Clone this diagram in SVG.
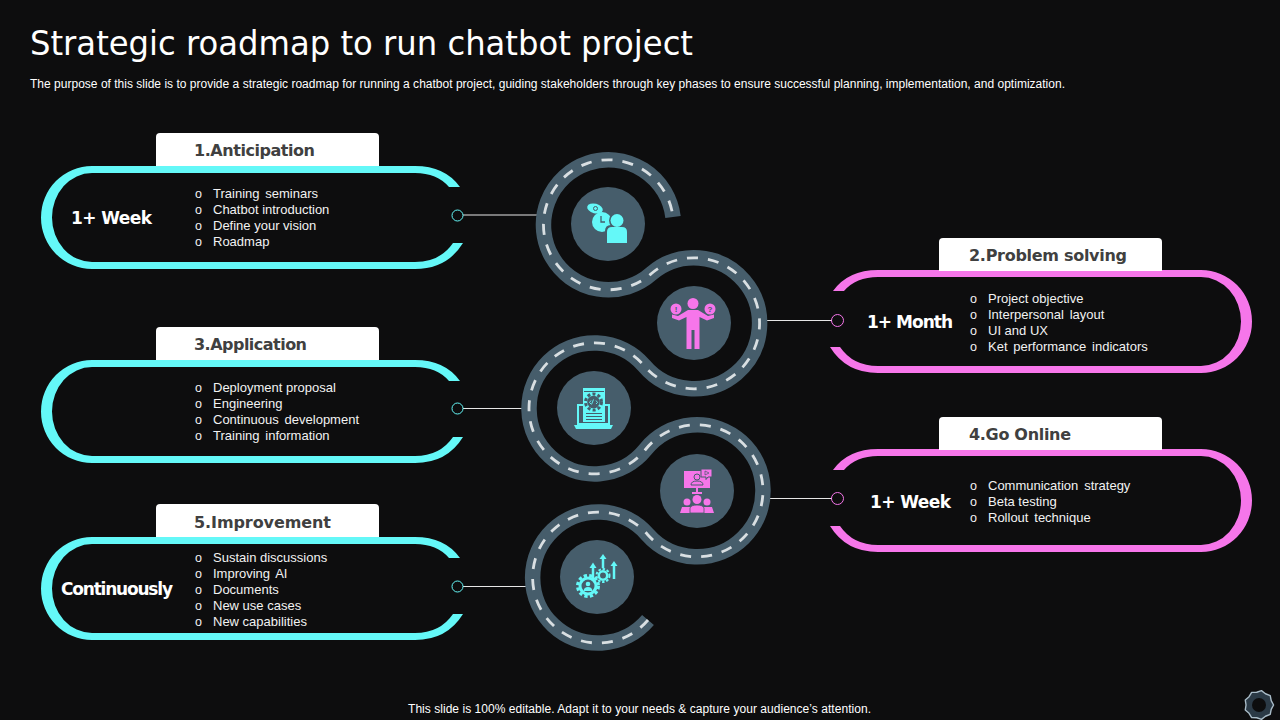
<svg xmlns="http://www.w3.org/2000/svg" xmlns:xlink="http://www.w3.org/1999/xlink" width="1280" height="720" viewBox="0 0 1280 720">
<style>
.body{font-family:"Liberation Sans",Arial,sans-serif;font-size:13px;fill:#f2f2f2}
.ws{word-spacing:2.200px}
.bul{font-family:"Liberation Sans",Arial,sans-serif;font-size:12.500px;fill:#f2f2f2}
.head{font-family:"DejaVu Sans",Verdana,sans-serif;font-weight:700;font-size:16px;fill:#404040}
.dur{font-family:"DejaVu Sans",Verdana,sans-serif;font-weight:700;font-size:17px;fill:#fff}
.note{font-family:"Liberation Sans",Arial,sans-serif;font-size:12px;fill:#fff}
.tab{fill:#fff}
.conn{stroke:#e6e6e6;stroke-width:1;fill:none}
.disc{fill:#465d6b}
.cy{fill:#64f8f8}
.pk{fill:#f676ea}
</style>
<defs>
<path id="band" d="M92,166H415Q445,166 460,187H449Q437,173 415,173H92A40,44.500 0 0 0 92,262H415Q440,262 453,243H463Q447,269 415,269H92A51,51.500 0 0 1 92,166Z"/>
<path id="tabshape" d="M156,166V137Q156,133 160,133H375Q379,133 379,137V166Z"/>
</defs>
<rect width="1280" height="720" fill="#0d0d0e"/>
<text x="30" y="55" font-family="DejaVu Sans, Verdana, sans-serif" font-size="33" fill="#fff" textLength="663" lengthAdjust="spacingAndGlyphs">Strategic roadmap to run chatbot project</text>
<text class="note" x="30" y="88" textLength="1035">The purpose of this slide is to provide a strategic roadmap for running a chatbot project, guiding stakeholders through key phases to ensure successful planning, implementation, and optimization.</text>

<g id="connectors" class="conn">
<line x1="463" y1="215" x2="537" y2="215"/>
<line x1="463" y1="408.500" x2="522" y2="408.500"/>
<line x1="463" y1="586.500" x2="527" y2="586.500"/>
<line x1="767" y1="320.500" x2="832" y2="320.500"/>
<line x1="770" y1="498.500" x2="832" y2="498.500"/>
<circle cx="457.500" cy="215.500" r="5.500" stroke="#64f8f8"/>
<circle cx="457.500" cy="408.500" r="5.500" stroke="#64f8f8"/>
<circle cx="457.500" cy="586.500" r="5.500" stroke="#64f8f8"/>
<circle cx="837.500" cy="320.500" r="6" stroke="#f676ea"/>
<circle cx="837.500" cy="498.500" r="6" stroke="#f676ea"/>
</g>

<g id="road" fill="none">
<path d="M673,217A65,65 0 1 0 651.500,273.500A65.500,65.500 0 1 1 644,365.500A65.500,65.500 0 1 0 645.500,449.500A66,66 0 1 1 647.500,534.500A65.500,65.500 0 1 0 648,620" stroke="#465d6b" stroke-width="15.500"/>
<path d="M673,217A65,65 0 1 0 651.500,273.500A65.500,65.500 0 1 1 644,365.500A65.500,65.500 0 1 0 645.500,449.500A66,66 0 1 1 647.500,534.500A65.500,65.500 0 1 0 648,620" stroke="#d9dfe2" stroke-width="2.800" stroke-dasharray="11 10" stroke-dashoffset="-6"/>
</g>

<g id="node1">
<use xlink:href="#band" class="cy"/>
<use xlink:href="#tabshape" class="tab"/>
<text class="head" x="194" y="156" textLength="121">1.Anticipation</text>
<text class="dur" x="71" y="224" textLength="81">1+ Week</text>
<g class="bul"><text x="195" y="198">o</text><text x="195" y="214">o</text><text x="195" y="230">o</text><text x="195" y="246">o</text></g>
<g class="body"><text x="213" y="198" class="ws">Training seminars</text><text x="213" y="214">Chatbot introduction</text><text x="213" y="230">Define your vision</text><text x="213" y="246">Roadmap</text></g>
<circle class="disc" cx="608" cy="224" r="37"/>
<g class="cy">
<ellipse cx="595" cy="208.500" rx="8" ry="4.800" transform="rotate(15 595 208.500)"/>
<circle cx="602" cy="222" r="10"/>
</g>
<circle cx="617" cy="220.500" r="8" class="disc"/>
<path class="disc" d="M605,245V231Q605,225 611,225H623Q629,225 629,231V245Z"/>
<g class="cy">
<circle cx="617" cy="220.500" r="6.500"/>
<path d="M607,243V232Q607,227 612,227H622Q627,227 627,232V243Z"/>
</g>
<circle cx="595.500" cy="208.500" r="2" fill="none" stroke="#465d6b" stroke-width="1"/>
<path d="M601,216V222H605" fill="none" stroke="#465d6b" stroke-width="1.300"/>
</g>

<g id="node2">
<use xlink:href="#band" class="pk" transform="translate(1293,104) scale(-1,1)"/>
<use xlink:href="#tabshape" class="tab" transform="translate(783,105)"/>
<text class="head" x="969" y="261" textLength="158">2.Problem solving</text>
<text class="dur" x="867" y="328" textLength="86">1+ Month</text>
<g class="bul"><text x="970" y="303">o</text><text x="970" y="319">o</text><text x="970" y="335">o</text><text x="970" y="351">o</text></g>
<g class="body"><text x="988" y="303">Project objective</text><text x="988" y="319" class="ws">Interpersonal layout</text><text x="988" y="335">UI and UX</text><text x="988" y="351" class="ws">Ket performance indicators</text></g>
<circle class="disc" cx="694" cy="323" r="37"/>
<g class="pk">
<circle cx="693" cy="303.500" r="5.500"/>
<path d="M688,310H698L708,316L714,314.500V318L707,320.500L699.500,317V349H694.500V330H691.500V349H686.500V317L679,320.500L672,318V314.500L678,316Z"/>
<circle cx="676" cy="309" r="5.500"/>
<circle cx="710" cy="309" r="5.500"/>
</g>
<text x="676" y="312" font-family="Liberation Sans, sans-serif" font-size="8" font-weight="700" text-anchor="middle" fill="#465d6b">!</text>
<text x="710" y="312" font-family="Liberation Sans, sans-serif" font-size="8" font-weight="700" text-anchor="middle" fill="#465d6b">?</text>
</g>

<g id="node3">
<use xlink:href="#band" class="cy" transform="translate(0,194)"/>
<use xlink:href="#tabshape" class="tab" transform="translate(0,194)"/>
<text class="head" x="194" y="350" textLength="113">3.Application</text>
<g class="bul"><text x="195" y="392">o</text><text x="195" y="408">o</text><text x="195" y="424">o</text><text x="195" y="440">o</text></g>
<g class="body"><text x="213" y="392">Deployment proposal</text><text x="213" y="408">Engineering</text><text x="213" y="424" class="ws">Continuous development</text><text x="213" y="440" class="ws">Training information</text></g>
<circle class="disc" cx="594" cy="408" r="37"/>
<g class="cy">
<path d="M583,388H605V422H583Z"/>
<path d="M574,425H613L611,429H576Z"/>
<path d="M577,425V404H583V406H579V423H608V406H604V404H610V425Z"/>
</g>
<circle cx="593.500" cy="402" r="8" fill="none" stroke="#465d6b" stroke-width="3" stroke-dasharray="3 2.200"/>
<circle cx="593.500" cy="402" r="6.300" fill="#465d6b"/>
<path d="M584,391.500H604M586,413.500H602M586,416.500H602M586,419.500H602" stroke="#465d6b" stroke-width="1"/>
<path d="M591.500,404.500L593.500,399.500M596,400.500L597.500,402.500L596,404M591,400.500L589.500,402.500L591,404" stroke="#64f8f8" stroke-width=".9" fill="none"/>
</g>

<g id="node4">
<use xlink:href="#band" class="pk" transform="translate(1293,283) scale(-1,1)"/>
<use xlink:href="#tabshape" class="tab" transform="translate(783,284)"/>
<text class="head" x="969" y="440" textLength="102">4.Go Online</text>
<text class="dur" x="870" y="508" textLength="81">1+ Week</text>
<g class="bul"><text x="970" y="490">o</text><text x="970" y="506">o</text><text x="970" y="522">o</text></g>
<g class="body"><text x="988" y="490" class="ws">Communication strategy</text><text x="988" y="506">Beta testing</text><text x="988" y="522" class="ws">Rollout technique</text></g>
<circle class="disc" cx="697" cy="491" r="37"/>
<g class="pk">
<path d="M684,471H710V488H684Z"/>
<path d="M701,469H712V477H708L706,479.500V477H701Z" stroke="#465d6b" stroke-width="1"/>
<path d="M696,488H698V492H702V494H692V492H696Z"/>
<circle cx="697" cy="499.500" r="4.500"/>
<circle cx="687" cy="502" r="3.500"/>
<circle cx="707" cy="502" r="3.500"/>
<path d="M680,513L682,507H712L714,513Z"/>
<path d="M690,513V508Q691,505 697,505Q703,505 704,508V513Z" stroke="#465d6b" stroke-width=".8"/>
</g>
<circle cx="697" cy="477" r="3" fill="none" stroke="#465d6b" stroke-width="1"/>
<path d="M691,485Q691,481 697,481Q703,481 703,485Z" fill="none" stroke="#465d6b" stroke-width="1"/>
<path d="M705,471L709,473L705,475Z" fill="none" stroke="#465d6b" stroke-width=".7"/>
</g>

<g id="node5">
<use xlink:href="#band" class="cy" transform="translate(0,371)"/>
<use xlink:href="#tabshape" class="tab" transform="translate(0,371)"/>
<text class="head" x="194" y="528" textLength="137">5.Improvement</text>
<text class="dur" x="61" y="595" textLength="112">Continuously</text>
<g class="bul"><text x="195" y="562">o</text><text x="195" y="578">o</text><text x="195" y="594">o</text><text x="195" y="610">o</text><text x="195" y="626">o</text></g>
<g class="body"><text x="213" y="562">Sustain discussions</text><text x="213" y="578" class="ws">Improving AI</text><text x="213" y="594">Documents</text><text x="213" y="610">New use cases</text><text x="213" y="626">New capabilities</text></g>
<circle class="disc" cx="597" cy="577" r="37"/>
<g fill="none" stroke="#64f8f8">
<circle cx="588" cy="586" r="8" stroke-width="3"/>
<circle cx="588" cy="586" r="10.500" stroke-width="3" stroke-dasharray="3.300 2.300"/>
<circle cx="603" cy="575.500" r="4.200" stroke-width="2.500"/>
<circle cx="603" cy="575.500" r="6.500" stroke-width="2" stroke-dasharray="2.500 1.700"/>
<path d="M593,580V567M603,568V557M614,579V565" stroke-width="2.500"/>
</g>
<g class="cy">
<path d="M589.500,568L593,562.500L596.500,568Z"/>
<path d="M599.500,559L603,554L606.500,559Z"/>
<path d="M610.500,566L614,561L617.500,566Z"/>
<circle cx="588" cy="584" r="2.300"/>
<path d="M583.500,591Q584,587 588,587Q592,587 592.500,591Z"/>
</g>
</g>

<text class="note" x="408" y="713" textLength="463">This slide is 100% editable. Adapt it to your needs &amp; capture your audience’s attention.</text>

<g id="gear">
<path transform="translate(1259,705) scale(1.080)" d="M13.500,0L11.300,4.100L10.400,8.700L6,10.400L2.300,13.300L-2.100,11.800L-6.800,11.700L-9.200,7.700L-12.700,4.600L-12,0L-12.700,-4.600L-9.200,-7.700L-6.800,-11.700L-2.100,-11.800L2.300,-13.300L6,-10.400L10.400,-8.700L11.300,-4.100Z" fill="#2b3a46" stroke="#a9bcc8" stroke-width="1.300" stroke-linejoin="round"/>
<circle cx="1259" cy="705" r="7" fill="#0d0d0e"/>
</g>
</svg>
